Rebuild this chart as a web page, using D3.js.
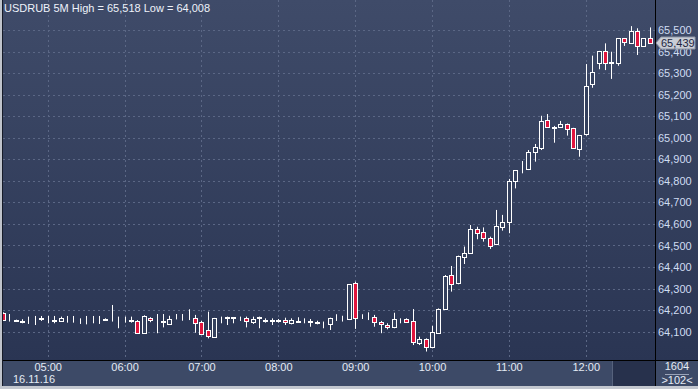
<!DOCTYPE html>
<html><head><meta charset="utf-8">
<script src="https://cdn.jsdelivr.net/npm/d3@7"></script>
<style>html,body{margin:0;padding:0;background:#2e3a57;}svg{display:block;font-family:"Liberation Sans",Arial,sans-serif;}</style>
</head><body>
<svg id="c" width="698" height="389"></svg>
<script>
// ---------- data (USDRUB, 5-minute bars, 04:25 .. 12:50) ----------
const open = [64.188,64.158,64.150,64.146,64.147,64.154,64.160,64.158,64.151,64.151,64.158,64.157,64.155,64.157,64.158,64.155,64.160,64.155,64.158,64.155,64.152,64.151,64.093,64.165,64.157,64.151,64.136,64.169,64.169,64.169,64.162,64.147,64.108,64.074,64.162,64.165,64.165,64.159,64.162,64.147,64.165,64.151,64.152,64.151,64.154,64.139,64.147,64.150,64.148,64.142,64.139,64.134,64.159,64.167,64.159,64.325,64.169,64.170,64.170,64.144,64.131,64.120,64.159,64.158,64.150,64.049,64.066,64.031,64.095,64.205,64.363,64.325,64.448,64.467,64.575,64.561,64.533,64.506,64.587,64.611,64.801,64.847,64.854,64.933,64.954,65.082,65.047,65.048,65.064,65.044,64.948,65.016,65.248,65.345,65.404,65.350,65.345,65.461,65.438,65.497,65.427,65.461];
const high = [64.190,64.182,64.156,64.158,64.170,64.173,64.173,64.173,64.173,64.170,64.173,64.173,64.162,64.173,64.173,64.173,64.162,64.224,64.170,64.170,64.170,64.154,64.176,64.167,64.182,64.182,64.174,64.182,64.182,64.204,64.178,64.150,64.193,64.164,64.170,64.170,64.167,64.170,64.170,64.170,64.170,64.162,64.162,64.159,64.165,64.162,64.167,64.162,64.159,64.151,64.147,64.165,64.181,64.174,64.321,64.332,64.181,64.190,64.178,64.150,64.139,64.188,64.162,64.162,64.205,64.077,64.069,64.127,64.208,64.363,64.405,64.453,64.495,64.595,64.587,64.584,64.541,64.665,64.642,64.809,64.849,64.892,64.943,64.971,65.102,65.110,65.055,65.078,65.066,65.046,65.013,65.342,65.381,65.403,65.438,65.399,65.461,65.463,65.518,65.508,65.461,65.512];
const low = [64.150,64.147,64.147,64.139,64.136,64.131,64.150,64.139,64.139,64.147,64.142,64.142,64.136,64.134,64.139,64.136,64.151,64.147,64.116,64.142,64.142,64.093,64.091,64.144,64.093,64.120,64.131,64.157,64.151,64.154,64.095,64.089,64.069,64.074,64.139,64.131,64.139,64.150,64.120,64.136,64.116,64.142,64.131,64.142,64.131,64.134,64.142,64.139,64.123,64.134,64.116,64.108,64.150,64.147,64.154,64.113,64.159,64.154,64.123,64.093,64.111,64.116,64.139,64.147,64.038,64.038,64.008,64.023,64.093,64.201,64.286,64.320,64.414,64.464,64.529,64.518,64.484,64.502,64.569,64.557,64.765,64.835,64.850,64.889,64.943,65.048,64.977,65.046,65.010,64.951,64.912,65.010,65.232,65.318,65.314,65.273,65.334,65.426,65.436,65.384,65.423,65.439];
const close = [64.154,64.157,64.154,64.148,64.146,64.155,64.162,64.157,64.152,64.164,64.159,64.158,64.154,64.158,64.157,64.154,64.154,64.154,64.157,64.156,64.151,64.093,64.174,64.154,64.158,64.144,64.157,64.170,64.170,64.170,64.139,64.089,64.080,64.162,64.163,64.166,64.166,64.160,64.150,64.159,64.166,64.152,64.151,64.152,64.144,64.154,64.148,64.151,64.147,64.143,64.140,64.162,64.160,64.168,64.320,64.165,64.170,64.169,64.147,64.134,64.120,64.158,64.160,64.147,64.054,64.066,64.028,64.097,64.204,64.359,64.320,64.451,64.464,64.575,64.557,64.533,64.499,64.591,64.608,64.799,64.849,64.848,64.933,64.956,65.078,65.049,65.048,65.064,65.039,64.954,65.013,65.242,65.304,65.403,65.345,65.349,65.461,65.443,65.497,65.427,65.461,65.439];

const priceTicks = [64.1,64.2,64.3,64.4,64.5,64.6,64.7,64.8,64.9,65.0,65.1,65.2,65.3,65.4,65.5];
const timeTickIndex = [7,19,31,43,55,67,79,91];
const timeTickLabels = ["05:00","06:00","07:00","08:00","09:00","10:00","11:00","12:00"];
const titleText = "USDRUB 5M High = 65,518 Low = 64,008";
const dateLabel = "16.11.16";
const infoTop = "1604";
const infoBottom = ">102<";

// ---------- layout ----------
const W = 698, H = 389;
const plotL = 3, plotR = 655, plotT = 0, plotB = 360;
const svg = d3.select("#c");
const ru = d3.formatLocale({decimal: ",", thousands: " ", grouping: [3], currency: ["", ""]});
const fmt = ru.format(".3f");

const x = d3.scaleLinear().domain([0, 101]).range([2.87, 649.8]);
const y = d3.scaleLinear().domain([64.1, 65.5]).range([331.7, 30]);

const defs = svg.append("defs");
const g1 = defs.append("linearGradient").attr("id", "bg").attr("x1", 0).attr("x2", 0).attr("y1", 0).attr("y2", 1);
g1.append("stop").attr("offset", "0%").attr("stop-color", "#3f4b69");
g1.append("stop").attr("offset", "100%").attr("stop-color", "#2a3553");
defs.append("clipPath").attr("id", "clip").append("rect")
  .attr("x", plotL).attr("y", plotT).attr("width", plotR - plotL).attr("height", plotB - plotT);

// background
svg.append("rect").attr("x", 0).attr("y", 0).attr("width", W).attr("height", 361).attr("fill", "url(#bg)");
// bottom band
svg.append("rect").attr("x", 0).attr("y", 361).attr("width", W).attr("height", 26).attr("fill", "#3d4a67");
svg.append("rect").attr("x", 612).attr("y", 361).attr("width", 43).attr("height", 25).attr("fill", "#27314c");
svg.append("line").attr("x1", 612.5).attr("x2", 612.5).attr("y1", 361).attr("y2", 386).attr("stroke", "#56627c");

// grid
const grid = svg.append("g").attr("clip-path", "url(#clip)");
grid.selectAll("line.h").data(priceTicks).join("line")
  .attr("x1", plotL).attr("x2", plotR)
  .attr("y1", d => Math.round(y(d)) + 0.5).attr("y2", d => Math.round(y(d)) + 0.5)
  .attr("stroke", "#5b6785").attr("stroke-dasharray", "2,3");
grid.selectAll("line.v").data(timeTickIndex).join("line")
  .attr("y1", plotT).attr("y2", plotB)
  .attr("x1", d => Math.round(x(d)) + 0.5).attr("x2", d => Math.round(x(d)) + 0.5)
  .attr("stroke", "#5b6785").attr("stroke-dasharray", "2,3");

// candles
const idx = d3.range(open.length);
const cg = svg.append("g").attr("clip-path", "url(#clip)");
const cx = i => Math.round(x(i)) + 0.5;
cg.selectAll("line.w").data(idx).join("line")
  .attr("x1", cx).attr("x2", cx)
  .attr("y1", i => y(high[i])).attr("y2", i => y(low[i]))
  .attr("stroke", "#ffffff").attr("stroke-width", 1);
cg.selectAll("rect.b").data(idx).join("rect")
  .attr("x", i => cx(i) - 2)
  .attr("width", 4)
  .attr("y", i => Math.round(y(Math.max(open[i], close[i]))) + 0.5)
  .attr("height", i => Math.max(0, Math.round(y(Math.min(open[i], close[i]))) - Math.round(y(Math.max(open[i], close[i])))))
  .attr("fill", i => close[i] < open[i] ? "#e0153d" : "#34405d")
  .attr("stroke", "#ffffff").attr("stroke-width", 1);

// right axis
svg.append("line").attr("x1", 655.5).attr("x2", 655.5).attr("y1", 0).attr("y2", 386).attr("stroke", "#000");
const ya = svg.append("g").attr("transform", "translate(655,0)")
  .call(d3.axisRight(y).tickValues(priceTicks).tickFormat(fmt).tickSize(0).tickPadding(3));
ya.select(".domain").remove();
ya.selectAll("text").attr("fill", "#cfdcf2").attr("font-size", 11).attr("font-family", "Liberation Sans, Arial, sans-serif");

// bottom axis
svg.append("line").attr("x1", 2).attr("x2", W).attr("y1", 360.5).attr("y2", 360.5).attr("stroke", "#000");
const xa = svg.append("g").attr("transform", "translate(0,362)")
  .call(d3.axisBottom(x).tickValues(timeTickIndex).tickFormat((d, i) => timeTickLabels[i]).tickSize(0).tickPadding(1));
xa.select(".domain").remove();
xa.selectAll("text").attr("fill", "#e4eaf5").attr("font-size", 11).attr("font-family", "Liberation Sans, Arial, sans-serif");
svg.append("text").attr("x", 13).attr("y", 383).attr("fill", "#e4eaf5").attr("font-size", 11).text(dateLabel);

// info cell
svg.append("text").attr("x", 677).attr("y", 370).attr("text-anchor", "middle").attr("fill", "#e4eaf5").attr("font-size", 11).text(infoTop);
svg.append("line").attr("x1", 665).attr("x2", 689).attr("y1", 374.5).attr("y2", 374.5).attr("stroke", "#9aa4b8");
svg.append("text").attr("x", 677).attr("y", 384).attr("text-anchor", "middle").attr("fill", "#e4eaf5").attr("font-size", 11).text(infoBottom);

// last price tag
const last = close[close.length - 1];
const ly = Math.round(y(last));
svg.append("path")
  .attr("d", `M656,${ly} L661,${ly - 6} L695,${ly - 6} L695,${ly + 6} L661,${ly + 6} Z`)
  .attr("fill", "#c9cdd6").attr("stroke", "#8e95a5");
svg.append("text").attr("x", 661).attr("y", ly + 4).attr("fill", "#1e2640").attr("font-size", 11).text(fmt(last));

// title
svg.append("text").attr("x", 4).attr("y", 12).attr("fill", "#eef2fa").attr("font-size", 11).text(titleText);

// frame
svg.append("rect").attr("x", 0).attr("y", 0).attr("width", 2).attr("height", H).attr("fill", "#bfc3cb");
svg.append("line").attr("x1", 2.5).attr("x2", 2.5).attr("y1", 0).attr("y2", 386).attr("stroke", "#161b28");
svg.append("rect").attr("x", 0).attr("y", 386).attr("width", W).attr("height", 3).attr("fill", "#c3c7cf");
</script>
</body></html>
